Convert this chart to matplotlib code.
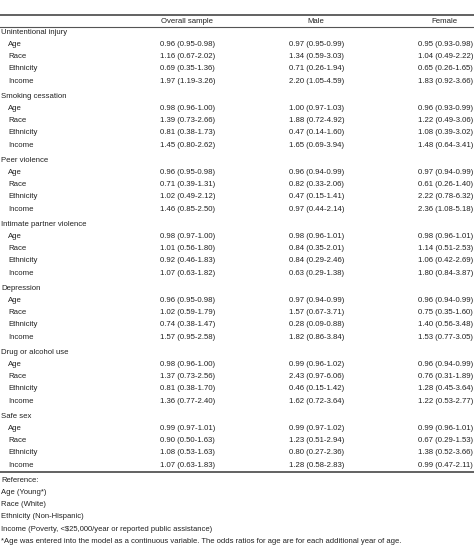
import matplotlib
matplotlib.use("Agg")
import matplotlib.pyplot as plt

plt.rcParams['font.family'] = ['Liberation Sans', 'DejaVu Sans']

columns = ["Overall sample", "Male", "Female"]
sections = ["Unintentional injury", "Smoking cessation", "Peer violence",
            "Intimate partner violence", "Depression", "Drug or alcohol use", "Safe sex"]
variables = ["Age", "Race", "Ethnicity", "Income"]

overall = [
    ["0.96 (0.95-0.98)", "1.16 (0.67-2.02)", "0.69 (0.35-1.36)", "1.97 (1.19-3.26)"],
    ["0.98 (0.96-1.00)", "1.39 (0.73-2.66)", "0.81 (0.38-1.73)", "1.45 (0.80-2.62)"],
    ["0.96 (0.95-0.98)", "0.71 (0.39-1.31)", "1.02 (0.49-2.12)", "1.46 (0.85-2.50)"],
    ["0.98 (0.97-1.00)", "1.01 (0.56-1.80)", "0.92 (0.46-1.83)", "1.07 (0.63-1.82)"],
    ["0.96 (0.95-0.98)", "1.02 (0.59-1.79)", "0.74 (0.38-1.47)", "1.57 (0.95-2.58)"],
    ["0.98 (0.96-1.00)", "1.37 (0.73-2.56)", "0.81 (0.38-1.70)", "1.36 (0.77-2.40)"],
    ["0.99 (0.97-1.01)", "0.90 (0.50-1.63)", "1.08 (0.53-1.63)", "1.07 (0.63-1.83)"],
]
male = [
    ["0.97 (0.95-0.99)", "1.34 (0.59-3.03)", "0.71 (0.26-1.94)", "2.20 (1.05-4.59)"],
    ["1.00 (0.97-1.03)", "1.88 (0.72-4.92)", "0.47 (0.14-1.60)", "1.65 (0.69-3.94)"],
    ["0.96 (0.94-0.99)", "0.82 (0.33-2.06)", "0.47 (0.15-1.41)", "0.97 (0.44-2.14)"],
    ["0.98 (0.96-1.01)", "0.84 (0.35-2.01)", "0.84 (0.29-2.46)", "0.63 (0.29-1.38)"],
    ["0.97 (0.94-0.99)", "1.57 (0.67-3.71)", "0.28 (0.09-0.88)", "1.82 (0.86-3.84)"],
    ["0.99 (0.96-1.02)", "2.43 (0.97-6.06)", "0.46 (0.15-1.42)", "1.62 (0.72-3.64)"],
    ["0.99 (0.97-1.02)", "1.23 (0.51-2.94)", "0.80 (0.27-2.36)", "1.28 (0.58-2.83)"],
]
female = [
    ["0.95 (0.93-0.98)", "1.04 (0.49-2.22)", "0.65 (0.26-1.65)", "1.83 (0.92-3.66)"],
    ["0.96 (0.93-0.99)", "1.22 (0.49-3.06)", "1.08 (0.39-3.02)", "1.48 (0.64-3.41)"],
    ["0.97 (0.94-0.99)", "0.61 (0.26-1.40)", "2.22 (0.78-6.32)", "2.36 (1.08-5.18)"],
    ["0.98 (0.96-1.01)", "1.14 (0.51-2.53)", "1.06 (0.42-2.69)", "1.80 (0.84-3.87)"],
    ["0.96 (0.94-0.99)", "0.75 (0.35-1.60)", "1.40 (0.56-3.48)", "1.53 (0.77-3.05)"],
    ["0.96 (0.94-0.99)", "0.76 (0.31-1.89)", "1.28 (0.45-3.64)", "1.22 (0.53-2.77)"],
    ["0.99 (0.96-1.01)", "0.67 (0.29-1.53)", "1.38 (0.52-3.66)", "0.99 (0.47-2.11)"],
]
footnotes = [
    "Reference:",
    "Age (Young*)",
    "Race (White)",
    "Ethnicity (Non-Hispanic)",
    "Income (Poverty, <$25,000/year or reported public assistance)",
    "*Age was entered into the model as a continuous variable. The odds ratios for age are for each additional year of age.",
]

W, H = 474, 550
fig = plt.figure(figsize=(W / 100, H / 100), dpi=100)
ax = fig.add_axes([0, 0, 1, 1])
ax.set_xlim(0, W)
ax.set_ylim(H, 0)
ax.axis("off")

fs = 5.6
tc = "#222222"
lc = "#555555"

# rules
ax.plot([0, W], [15, 15], color=lc, lw=1.3)
ax.plot([0, W], [27, 27], color=lc, lw=0.8)
ax.plot([0, W], [472, 472], color=lc, lw=1.3)

col_x = [187, 316, 444]
for x, c in zip(col_x, columns):
    ax.text(x, 21.5, c, ha="center", va="center", fontsize=fs, color=tc)

data_x = [160, 289, 418]
offsets = [11, 23.5, 36, 48.5]
for i, sec in enumerate(sections):
    y0 = 33 + i * 64
    ax.text(1, y0, sec, ha="left", va="center", fontsize=fs, color=tc)
    for k, var in enumerate(variables):
        y = y0 + offsets[k]
        ax.text(8, y, var, ha="left", va="center", fontsize=fs, color=tc)
        for x, tbl in zip(data_x, [overall, male, female]):
            ax.text(x, y, tbl[i][k], ha="left", va="center", fontsize=fs, color=tc)

for j, f in enumerate(footnotes):
    ax.text(1, 480 + j * 12.3, f, ha="left", va="center", fontsize=5.5, color=tc)

fig.savefig("out.png", dpi=100, facecolor="white")
